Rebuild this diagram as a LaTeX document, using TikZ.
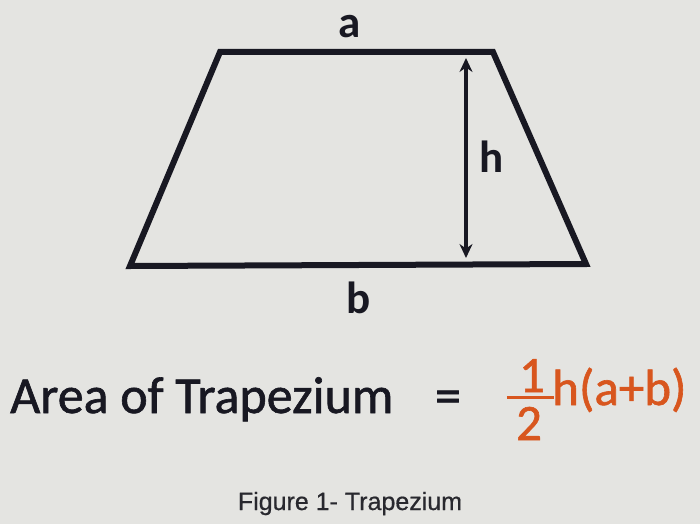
\documentclass[tikz,border=0pt]{standalone}
\usepackage{fontspec}
\setmainfont{Carlito}
\newfontfamily\areafont[FakeBold=1.2]{Carlito}
\newfontfamily\capfont[FakeBold=0.6]{Liberation Sans}
\usetikzlibrary{arrows.meta}
\definecolor{screen}{RGB}{228,228,225}
\definecolor{ink}{RGB}{24,24,34}
\definecolor{formula}{RGB}{216,86,30}
\definecolor{capgray}{RGB}{40,40,46}

\begin{document}
\begin{tikzpicture}[x=1pt,y=-1pt,
side/.style={
	% The border:
	line width=6pt,
	draw=ink,
	line join=miter},
heightline/.style={
	% The arrow:
	line width=4pt,draw=ink,
	{Stealth[length=14pt,width=13pt]}-{Stealth[length=14pt,width=13pt]}},
sidename/.style={
	% Font
	font=\bfseries\fontsize{45}{45}\selectfont,text=ink,inner sep=0pt},
areatext/.style={font=\areafont\fontsize{52}{52}\selectfont,text=ink,inner sep=0pt},
formulatext/.style={font=\areafont\fontsize{51}{51}\selectfont,text=formula,inner sep=0pt},
captext/.style={font=\capfont\fontsize{25}{25}\selectfont,text=capgray,inner sep=0pt}]

\useasboundingbox[fill=screen] (0,0) rectangle (700,524);

%Begin trapezium
\coordinate (TL) at (220,52);
\coordinate (TR) at (493,52);
\coordinate (BR) at (586,264);
\coordinate (BL) at (130,266);
\draw[side] (TL) -- (TR) -- (BR) -- (BL) -- cycle;

\coordinate (htop) at (466,58);
\coordinate (hbot) at (466,258);
\draw[heightline] (htop) -- (hbot);

\node (a) [sidename,anchor=base] at (350,38) {a};
\node (b) [sidename,anchor=base] at (359,313) {b};
\node (h) [sidename,anchor=base] at (492,172) {h};

% Now comes the formula...
\node (area) [areatext,anchor=base west] at (10,413) {Area of Trapezium};
\node (eq) [areatext,anchor=base] at (448,413) {=};
\node (one) [formulatext,anchor=base] at (532,392) {1};
\node (two) [formulatext,anchor=base] at (529,440) {2};
\draw[formula,line width=3pt] (one.south west) ++(-12,5) -- ++(47,0);
\node (hab) [formulatext,anchor=base west] at (552,405) {h(a+b)};

\node (fig) [captext,anchor=base] at (350,510) {Figure 1- Trapezium};

\end{tikzpicture}
\end{document}
